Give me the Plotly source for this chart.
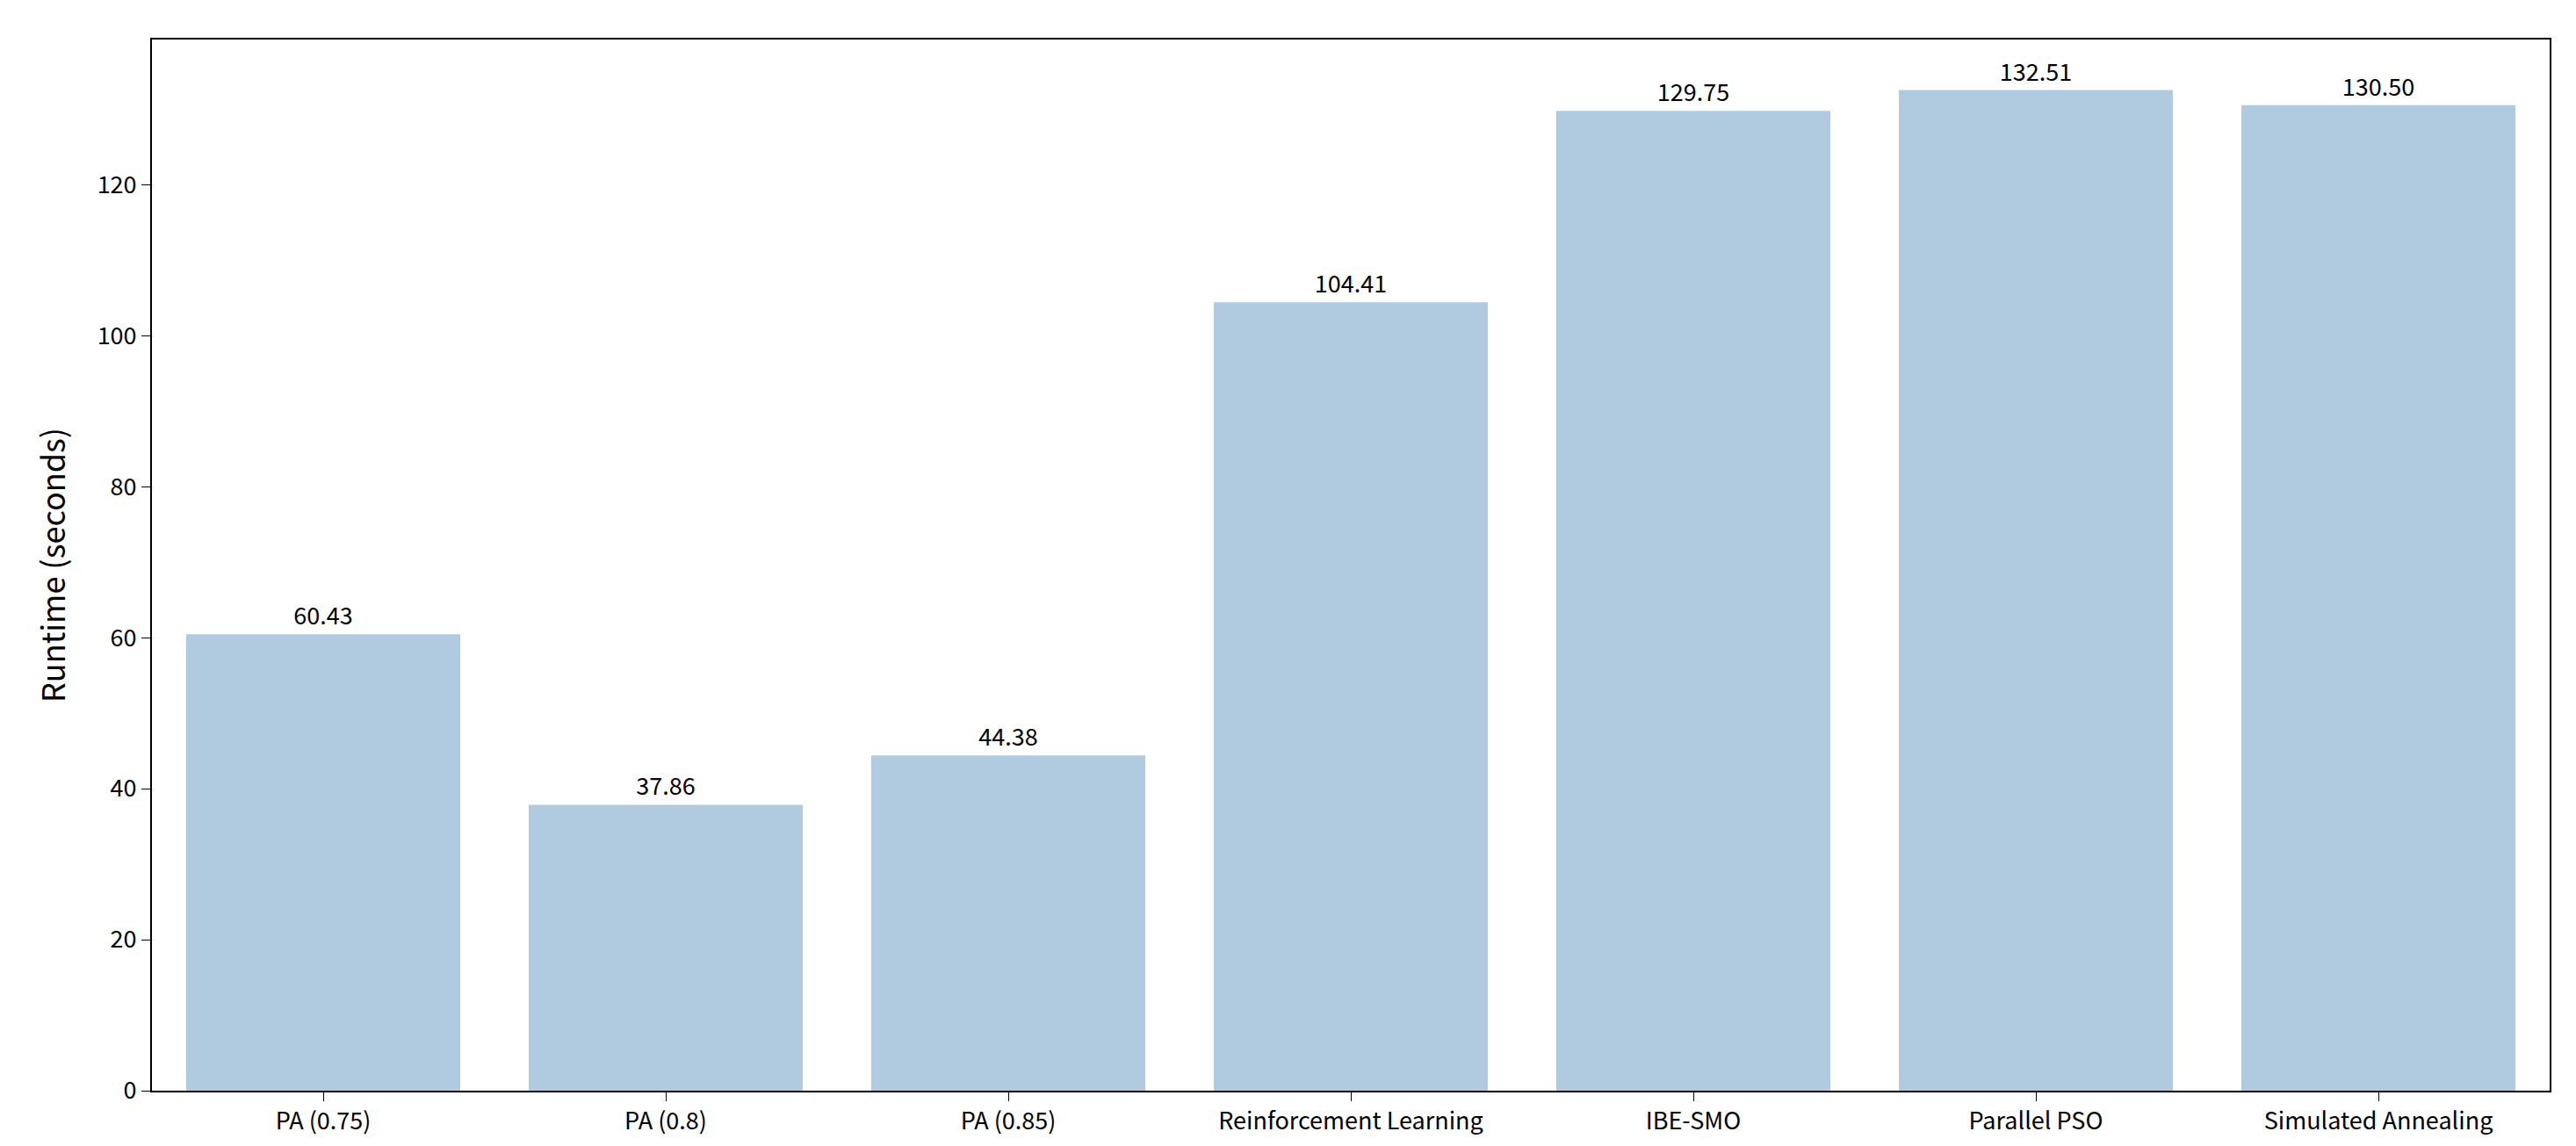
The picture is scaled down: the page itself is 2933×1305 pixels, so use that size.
import plotly.graph_objects as go

categories = ["PA (0.75)", "PA (0.8)", "PA (0.85)", "Reinforcement Learning", "IBE-SMO", "Parallel PSO", "Simulated Annealing"]
runtimes = [60.43, 37.86, 44.38, 104.41, 129.75, 132.51, 130.50]
yticks = [0, 20, 40, 60, 80, 100, 120]

font = "Noto Sans CJK SC"
fig = go.Figure(go.Bar(
    x=categories, y=runtimes, width=0.8,
    marker=dict(color="#b0cbe0", line=dict(width=0)),
    text=[f"{v:.2f}" for v in runtimes], textposition="outside",
    textfont=dict(family=font, size=27, color="black"), cliponaxis=False,
))
fig.update_layout(
    width=2933, height=1305, paper_bgcolor="white", plot_bgcolor="white",
    margin=dict(l=165, r=38, t=37, b=71), showlegend=False,
    font=dict(family=font, size=27, color="black"),
    xaxis=dict(showline=True, mirror=True, linecolor="black", linewidth=2,
               ticks="outside", ticklen=10, tickcolor="black", range=[-0.5, 6.5]),
    yaxis=dict(range=[0, 139.2], tickvals=yticks, showline=True, mirror=True,
               linecolor="black", linewidth=2, ticks="outside", ticklen=10,
               tickcolor="black", showgrid=False, zeroline=False,
               title=dict(text="Runtime (seconds)", font=dict(size=36), standoff=25)),
)
fig.write_html("out.html")
